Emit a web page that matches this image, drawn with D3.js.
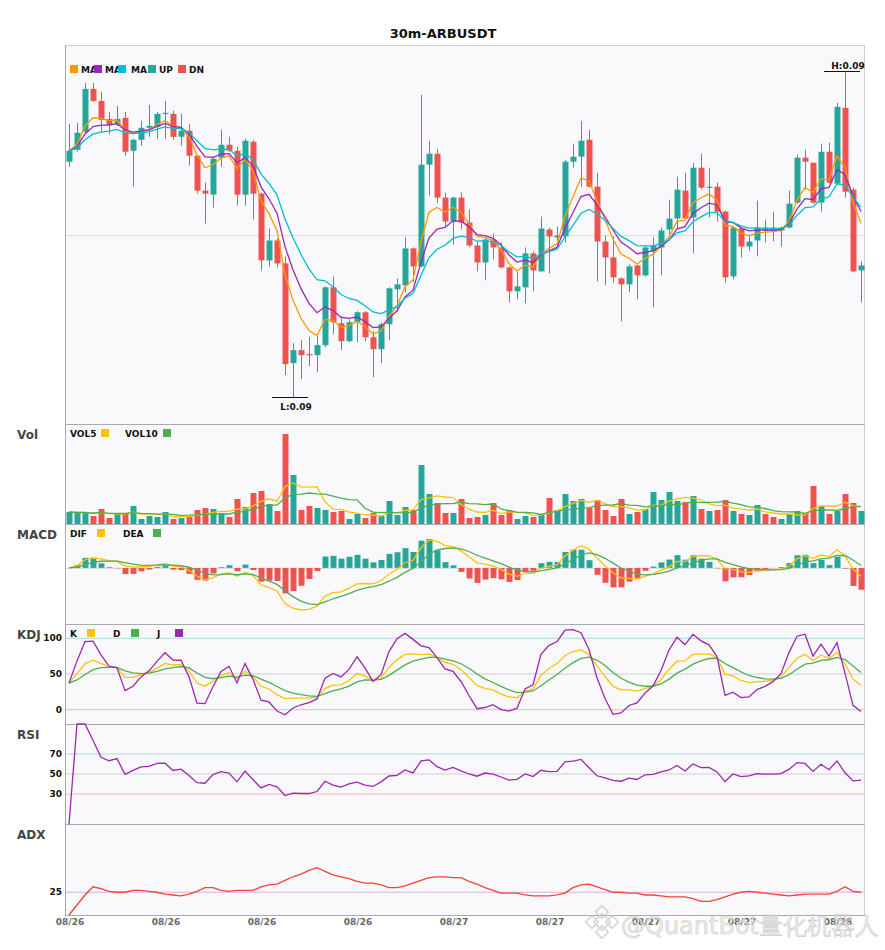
<!DOCTYPE html>
<html><head><meta charset="utf-8">
<script src="https://cdn.jsdelivr.net/npm/d3@7"></script>
<style>
body{margin:0;background:#fff}
svg{display:block}
text{font-family:"DejaVu Sans",sans-serif}
</style>
</head><body>
<svg id="c" width="885" height="950"></svg>
<script>
// ---------------- data ----------------
const title = "30m-ARBUSDT";
const open = [0.09338,0.09350,0.09368,0.09411,0.09399,0.09381,0.09375,0.09382,0.09349,0.09360,
0.09372,0.09373,0.09386,0.09386,0.09363,0.09369,0.09344,0.09309,0.09305,0.09342,
0.09355,0.09349,0.09305,0.09358,0.09306,0.09239,0.09259,0.09236,0.09136,0.09149,
0.09145,0.09144,0.09154,0.09212,0.09176,0.09158,0.09177,0.09187,0.09162,0.09150,
0.09175,0.09210,0.09214,0.09251,0.09233,0.09335,0.09346,0.09302,0.09278,0.09302,
0.09277,0.09254,0.09237,0.09260,0.09252,0.09232,0.09208,0.09212,0.09246,0.09228,
0.09270,0.09262,0.09263,0.09338,0.09343,0.09360,0.09313,0.09258,0.09242,0.09221,
0.09215,0.09234,0.09224,0.09248,0.09252,0.09270,0.09281,0.09309,0.09282,0.09332,
0.09312,0.09313,0.09288,0.09223,0.09271,0.09253,0.09259,0.09272,0.09272,0.09269,
0.09272,0.09297,0.09342,0.09337,0.09297,0.09348,0.09316,0.09392,0.09310,0.09229];
const high = [0.09376,0.09377,0.09417,0.09417,0.09408,0.09388,0.09394,0.09388,0.09361,0.09379,
0.09395,0.09388,0.09399,0.09389,0.09386,0.09376,0.09345,0.09317,0.09342,0.09370,
0.09363,0.09353,0.09361,0.09360,0.09307,0.09271,0.09261,0.09243,0.09156,0.09159,
0.09162,0.09163,0.09213,0.09223,0.09182,0.09180,0.09188,0.09188,0.09168,0.09177,
0.09212,0.09221,0.09262,0.09252,0.09405,0.09359,0.09351,0.09307,0.09303,0.09307,
0.09290,0.09258,0.09262,0.09266,0.09257,0.09233,0.09227,0.09252,0.09248,0.09283,
0.09272,0.09273,0.09340,0.09356,0.09379,0.09370,0.09327,0.09264,0.09263,0.09222,
0.09235,0.09235,0.09254,0.09262,0.09272,0.09300,0.09323,0.09327,0.09337,0.09346,
0.09332,0.09317,0.09289,0.09273,0.09272,0.09265,0.09299,0.09280,0.09288,0.09273,
0.09309,0.09345,0.09350,0.09337,0.09356,0.09357,0.09397,0.09428,0.09312,0.09238];
const low = [0.09333,0.09348,0.09366,0.09398,0.09368,0.09366,0.09374,0.09344,0.09313,0.09354,
0.09363,0.09361,0.09361,0.09360,0.09354,0.09334,0.09306,0.09276,0.09292,0.09333,
0.09348,0.09294,0.09294,0.09280,0.09229,0.09233,0.09232,0.09124,0.09102,0.09120,
0.09133,0.09127,0.09152,0.09165,0.09149,0.09157,0.09157,0.09158,0.09122,0.09136,
0.09159,0.09188,0.09207,0.09217,0.09232,0.09304,0.09297,0.09273,0.09255,0.09270,
0.09252,0.09228,0.09219,0.09240,0.09231,0.09197,0.09200,0.09196,0.09208,0.09228,
0.09226,0.09255,0.09257,0.09332,0.09313,0.09312,0.09218,0.09214,0.09217,0.09178,
0.09207,0.09200,0.09223,0.09192,0.09224,0.09265,0.09271,0.09280,0.09246,0.09310,
0.09282,0.09278,0.09217,0.09220,0.09242,0.09249,0.09243,0.09257,0.09258,0.09253,
0.09271,0.09296,0.09310,0.09296,0.09288,0.09316,0.09315,0.09302,0.09227,0.09197];
const close = [0.09349,0.09367,0.09411,0.09399,0.09380,0.09375,0.09381,0.09348,0.09360,0.09372,
0.09374,0.09386,0.09387,0.09363,0.09369,0.09344,0.09309,0.09306,0.09341,0.09355,
0.09349,0.09305,0.09359,0.09306,0.09239,0.09259,0.09236,0.09135,0.09149,0.09144,
0.09144,0.09154,0.09212,0.09177,0.09158,0.09177,0.09187,0.09162,0.09150,0.09175,
0.09211,0.09215,0.09251,0.09233,0.09335,0.09346,0.09302,0.09278,0.09302,0.09277,
0.09254,0.09237,0.09260,0.09252,0.09232,0.09208,0.09213,0.09246,0.09229,0.09271,
0.09263,0.09264,0.09338,0.09343,0.09359,0.09313,0.09258,0.09242,0.09222,0.09215,
0.09233,0.09224,0.09252,0.09254,0.09269,0.09281,0.09310,0.09281,0.09332,0.09312,
0.09313,0.09288,0.09222,0.09272,0.09253,0.09258,0.09272,0.09269,0.09269,0.09272,
0.09296,0.09342,0.09338,0.09297,0.09348,0.09317,0.09393,0.09308,0.09228,0.09234];
// volume, thousand ARB
const volume = [12,11,12,8,15,6,10,10,18,5, 8,7,12,5,6,7,14,16,15,11,
7,25,17,31,33,20,13,90,49,14, 18,16,14,12,13,5,10,6,11,8,
23,9,17,14,59,30,21,11,11,25, 6,7,9,21,9,14,5,8,7,10,
26,14,30,23,25,16,24,14,8,25, 10,12,15,32,24,32,23,22,28,15,
13,14,24,13,10,9,19,10,7,5, 10,13,11,38,18,10,13,30,21,13];
const adx = [0,11,22,31,29,26,25,25,27,27, 26,25,23,22,21,23,26,30,30,27,
26,27,27,27,31,33,34,38,42,45, 49,52,48,44,42,40,37,35,35,33,
30,30,32,35,38,41,42,42,41,41, 37,34,30,27,24,24,24,22,21,21,
21,22,24,30,33,34,31,28,25,25, 24,24,22,22,21,20,20,20,18,15,
15,17,20,23,25,26,25,24,23,22, 21,22,23,23,23,23,26,31,26,25];
const xTickLabels = ["08/26","08/26","08/26","08/26","08/27","08/27","08/27","08/27","08/28"];
const xTickStep = 12;
const maPeriods = [5, 8, 13];
const volMaPeriods = [5, 10];
const macdParams = [6, 13, 5];
const kdjParams = [9, 3, 3];
const rsiPeriod = 14;
const kdjTicks = [0, 50, 100];
const rsiTicks = [30, 50, 70];
const adxTicks = [25];

// ---------------- indicators ----------------
const N = close.length;
function ema(a, n){ const k = 2/(n+1); const o=[]; a.forEach((v,i)=>o.push(i===0?v:o[i-1]+k*(v-o[i-1]))); return o; }
function sma(a, n){ return a.map((v,i)=>d3.mean(a.slice(Math.max(0,i-n+1), i+1))); }
const maLines = maPeriods.map(p=>ema(close,p));
const volMa = volMaPeriods.map(p=>sma(volume,p));
const eF = ema(close,macdParams[0]), eS = ema(close,macdParams[1]);
const dif = eF.map((v,i)=>v-eS[i]);
const dea = ema(dif,macdParams[2]);
const hist = dif.map((v,i)=>2*(v-dea[i]));
const K=[],D=[],J=[];
for(let i=0;i<N;i++){
  const s=Math.max(0,i-kdjParams[0]+1);
  const lo=d3.min(low.slice(s,i+1)), hi=d3.max(high.slice(s,i+1));
  const rsv = hi===lo?50:(close[i]-lo)/(hi-lo)*100;
  if(i===0){K.push(rsv);D.push(rsv);}
  else {K.push(((kdjParams[1]-1)*K[i-1]+rsv)/kdjParams[1]); D.push(((kdjParams[2]-1)*D[i-1]+K[i])/kdjParams[2]);}
  J.push(3*K[i]-2*D[i]);
}
const rsi = [];
{
  let ag=0, al=0, sg=0, sl=0;
  for(let i=0;i<N;i++){
    if(i===0){rsi.push(0);continue;}
    const d=close[i]-close[i-1], g=Math.max(d,0), l=Math.max(-d,0);
    if(i<=rsiPeriod){ sg+=g; sl+=l; ag=sg/i; al=sl/i; }
    else { ag=(ag*(rsiPeriod-1)+g)/rsiPeriod; al=(al*(rsiPeriod-1)+l)/rsiPeriod; }
    rsi.push((ag+al)===0?0:100*ag/(ag+al));
  }
}

// ---------------- layout ----------------
const svg = d3.select("#c");
const L = 65, R = 865;
const P = {main:[45,424], vol:[424,524], macd:[524,624], kdj:[624,724], rsi:[724,824], adx:[824,915]};
const UP="#26a69a", DN="#ef5350";
const x = d3.scaleBand().domain(d3.range(N)).range([L,R]);
const cx = i => x(i)+x.bandwidth()/2;

svg.append("text").attr("x",443).attr("y",38).attr("text-anchor","middle")
  .attr("font-size",13).attr("font-weight","bold").attr("fill","#111").text(title);
svg.append("rect").attr("x",L).attr("y",45).attr("width",R-L).attr("height",915-45).attr("fill","#f9f9fc");

const yP = d3.scaleLinear().domain([d3.min(low), d3.max(high)]).range([397,72]);
const yV = d3.scaleLinear().domain([0, d3.max(volume)]).range([524,434]);
const mAll = dif.concat(dea, hist);
const yM = d3.scaleLinear().domain(d3.extent(mAll)).range([610,539]);
const yK = d3.scaleLinear().domain([-20,120]).range([724,624]);
const yR = d3.scaleLinear().domain([0,100]).range([824,724]);
const yA = d3.scaleLinear().domain([0,100]).range([915,824]);

function hline(y, color){ svg.append("line").attr("x1",L).attr("x2",R).attr("y1",y).attr("y2",y).attr("stroke",color).attr("stroke-width",1); }
hline(Math.round((P.main[0]+P.main[1])/2)+0.5, "#dcdce0");
hline(Math.round(yM(0))+0.5, "#dcdce0");
const levelColor = {hi:"#a8dcd6", mid:"#cfcfd4", lo:"#f5b5b5"};
hline(yK(100), levelColor.hi); hline(yK(50), levelColor.mid); hline(yK(0), levelColor.lo);
hline(yR(70), levelColor.hi); hline(yR(50), levelColor.mid); hline(yR(30), levelColor.lo);
hline(yA(25), "#dcaee6");

// frame
svg.append("line").attr("x1",L).attr("x2",R).attr("y1",45.5).attr("y2",45.5).attr("stroke","#cdcdd6");
svg.append("line").attr("x1",R-0.5).attr("x2",R-0.5).attr("y1",45).attr("y2",915).attr("stroke","#cdcdd6");
[424,524,624,724,824,915].forEach(y=>svg.append("line").attr("x1",L).attr("x2",R).attr("y1",y+0.5).attr("y2",y+0.5).attr("stroke","#a9a9b0"));
svg.append("line").attr("x1",L+0.5).attr("x2",L+0.5).attr("y1",45).attr("y2",916).attr("stroke","#a9a9b0");

// candles
const isUp = i => close[i] >= open[i];
const cg = svg.append("g");
d3.range(N).forEach(i=>{
  const col = isUp(i)?UP:DN;
  cg.append("line").attr("x1",Math.round(cx(i))+0.5).attr("x2",Math.round(cx(i))+0.5)
    .attr("y1",yP(high[i])).attr("y2",yP(low[i])).attr("stroke",col).attr("stroke-width",1);
  const y0=yP(Math.max(open[i],close[i])), y1=yP(Math.min(open[i],close[i]));
  cg.append("rect").attr("x",Math.round(cx(i))-2.5).attr("width",6).attr("y",y0).attr("height",Math.max(1.2,y1-y0)).attr("fill",col);
});
const maColors = ["#ff9800","#9c27b0","#00bcd4"];
const lineGen = (ys, arr) => d3.line().x((d,i)=>cx(i)).y(d=>ys(d))(arr);
maLines.forEach((m,k)=>svg.append("path").attr("d",lineGen(yP,m)).attr("fill","none").attr("stroke",maColors[k]).attr("stroke-width",1.3));

// high/low markers
const iH = d3.maxIndex(high), iL = d3.minIndex(low);
function marker(i, y, ty, txt){
  svg.append("line").attr("x1",cx(i)-21).attr("x2",cx(i)+15).attr("y1",y).attr("y2",y).attr("stroke","#111").attr("stroke-width",1);
  svg.append("text").attr("x",cx(i)+3).attr("y",ty).attr("text-anchor","middle").attr("font-size",9).attr("font-weight","bold").attr("fill","#111").text(txt);
}
marker(iH, Math.round(yP(high[iH]))-0.5, yP(high[iH])-3, "H:"+high[iH].toFixed(2));
marker(iL, Math.round(yP(low[iL]))+0.5, yP(low[iL])+13, "L:"+low[iL].toFixed(2));

// volume
d3.range(N).forEach(i=>{
  svg.append("rect").attr("x",Math.round(cx(i))-2.5).attr("width",6).attr("y",yV(volume[i])).attr("height",524-yV(volume[i])).attr("fill",isUp(i)?UP:DN);
});
const volColors = ["#ffc107","#4caf50"];
volMa.forEach((m,k)=>svg.append("path").attr("d",lineGen(yV,m)).attr("fill","none").attr("stroke",volColors[k]).attr("stroke-width",1.3));

// macd
d3.range(N).forEach(i=>{
  const y0=yM(0), y1=yM(hist[i]);
  svg.append("rect").attr("x",Math.round(cx(i))-2.5).attr("width",6).attr("y",Math.min(y0,y1)).attr("height",Math.abs(y1-y0)).attr("fill",hist[i]>=0?UP:DN);
});
svg.append("path").attr("d",lineGen(yM,dif)).attr("fill","none").attr("stroke","#ffc107").attr("stroke-width",1.3);
svg.append("path").attr("d",lineGen(yM,dea)).attr("fill","none").attr("stroke","#4caf50").attr("stroke-width",1.3);

// kdj
[[K,"#ffc107"],[D,"#4caf50"],[J,"#9c27b0"]].forEach(([a,c])=>svg.append("path").attr("d",lineGen(yK,a)).attr("fill","none").attr("stroke",c).attr("stroke-width",1.3));
// rsi
svg.append("path").attr("d",lineGen(yR,rsi)).attr("fill","none").attr("stroke","#9c27b0").attr("stroke-width",1.3);
// adx
svg.append("path").attr("d",lineGen(yA,adx)).attr("fill","none").attr("stroke","#f44336").attr("stroke-width",1.3);

// y tick labels
function ticks(scale, vals){ vals.forEach(v=>svg.append("text").attr("x",62).attr("y",scale(v)).attr("dy","0.35em").attr("text-anchor","end").attr("font-size",9).attr("font-weight","bold").attr("fill","#111").text(v)); }
ticks(yK,kdjTicks); ticks(yR,rsiTicks); ticks(yA,adxTicks);

// panel labels
[["Vol",439],["MACD",539],["KDJ",639],["RSI",739],["ADX",839]].forEach(([t,y])=>
  svg.append("text").attr("x",17).attr("y",y).attr("font-size",12).attr("font-weight","bold").attr("fill","#444").text(t));

// legends
function legend(items, y){
  items.forEach(it=>svg.append("rect").attr("x",it.sq).attr("y",y-8).attr("width",8).attr("height",8).attr("fill",it.c));
  items.forEach(it=>svg.append("text").attr("x",it.tx).attr("y",y).attr("font-size",9).attr("font-weight","bold").attr("fill","#111").text(it.t));
}
const mainLeg = [{t:"MA",tx:81,sq:70,c:maColors[0]},{t:"MA",tx:105,sq:94,c:maColors[1]},{t:"MA",tx:131,sq:118,c:maColors[2]},{t:"UP",tx:159,sq:148,c:UP},{t:"DN",tx:189,sq:178,c:DN}];
mainLeg.forEach(it=>svg.append("text").attr("x",it.tx).attr("y",73).attr("font-size",9).attr("font-weight","bold").attr("fill","#111").text(it.t));
mainLeg.forEach(it=>svg.append("rect").attr("x",it.sq).attr("y",65).attr("width",8).attr("height",8).attr("fill",it.c));
legend([{t:"VOL5",tx:70,sq:101,c:"#ffc107"},{t:"VOL10",tx:125,sq:163,c:"#4caf50"}],437);
legend([{t:"DIF",tx:70,sq:97,c:"#ffc107"},{t:"DEA",tx:123,sq:153,c:"#4caf50"}],537);
legend([{t:"K",tx:70,sq:87,c:"#ffc107"},{t:"D",tx:113,sq:131,c:"#4caf50"},{t:"J",tx:157,sq:175,c:"#9c27b0"}],637);

// x labels
xTickLabels.forEach((t,k)=>svg.append("text").attr("x",cx(k*xTickStep)+1).attr("y",925).attr("text-anchor","middle")
  .attr("font-size",9).attr("font-weight","bold").attr("fill","#666").text(t));

// watermark
const wm = svg.append("g").attr("opacity",0.75);
[[0,0,6],[0,-10,4.5],[0,10,4.5],[-10,0,4.5],[10,0,4.5]].forEach(([dx,dy,s])=>
  wm.append("rect").attr("x",-s).attr("y",-s).attr("width",2*s).attr("height",2*s)
    .attr("transform",`translate(${602+dx},${922+dy}) rotate(45)`).attr("fill","none").attr("stroke","#c8c8c8").attr("stroke-width",1.6));
wm.append("text").attr("x",621).attr("y",934).attr("font-size",24).attr("font-family","'Noto Sans CJK SC','Noto Sans',sans-serif")
  .attr("fill","#e6e6e6").attr("stroke","#bdbdbd").attr("stroke-width",0.6).text("@QuantBot量化机器人");
</script>
</body></html>
